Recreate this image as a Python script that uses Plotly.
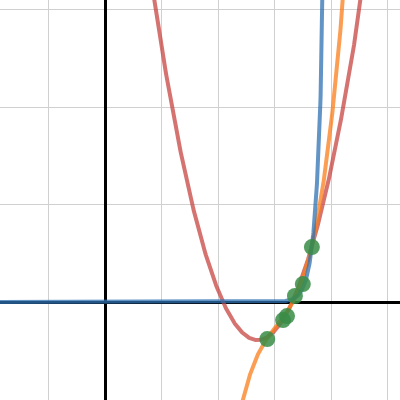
import numpy as np
import plotly.graph_objects as go

# green sample points
pts_x = [2.87, 3.15, 3.22, 3.36, 3.50, 3.66]
pts_y = [-0.38, -0.185, -0.144, 0.062, 0.185, 0.564]

# red curve: quadratic a*(x-h)^2+k
red_a, red_h, red_k = 1.04, 2.7, -0.39
# blue curve: exponential through point (3.66,0.564)
blue_k, blue_x0, blue_y0 = 8.55, 3.66, 0.564
# orange curve anchor points
or_x = [2.44, 2.87, 3.36, 3.66, 4.21]
or_y = [-1.0, -0.38, 0.06, 0.56, 3.1]

xs = np.linspace(-2, 5.4, 1500)
fig = go.Figure()
fig.add_trace(go.Scatter(x=xs, y=red_a*(xs-red_h)**2+red_k, mode="lines",
                         line=dict(color="rgba(199,68,64,0.75)", width=4)))
orc = np.polyfit(or_x, or_y, 3)
xo = np.linspace(2.3, 4.4, 400)
fig.add_trace(go.Scatter(x=xo, y=np.polyval(orc, xo), mode="lines",
                         line=dict(color="rgba(250,126,25,0.75)", width=4)))
xb = np.linspace(-2, 3.95, 1500)
fig.add_trace(go.Scatter(x=xb, y=blue_y0*np.exp(blue_k*(xb-blue_x0)), mode="lines",
                         line=dict(color="rgba(45,112,179,0.75)", width=4)))
fig.add_trace(go.Scatter(x=pts_x, y=pts_y, mode="markers",
                         marker=dict(color="rgba(56,140,70,0.85)", size=16)))
ax = dict(showticklabels=False, gridcolor="#d0d0d0", gridwidth=1,
          zeroline=True, zerolinecolor="black", zerolinewidth=2.5)
fig.update_layout(width=400, height=400, margin=dict(l=0, r=0, t=0, b=0),
                  plot_bgcolor="white", paper_bgcolor="white", showlegend=False,
                  xaxis=dict(range=[-1.86, 5.22], dtick=1, **ax),
                  yaxis=dict(range=[-1.005, 3.1], dtick=1, **ax))
fig.write_html("out.html", config={"displayModeBar": False},
               post_script="document.body.style.margin='0';document.body.style.overflow='hidden';")
